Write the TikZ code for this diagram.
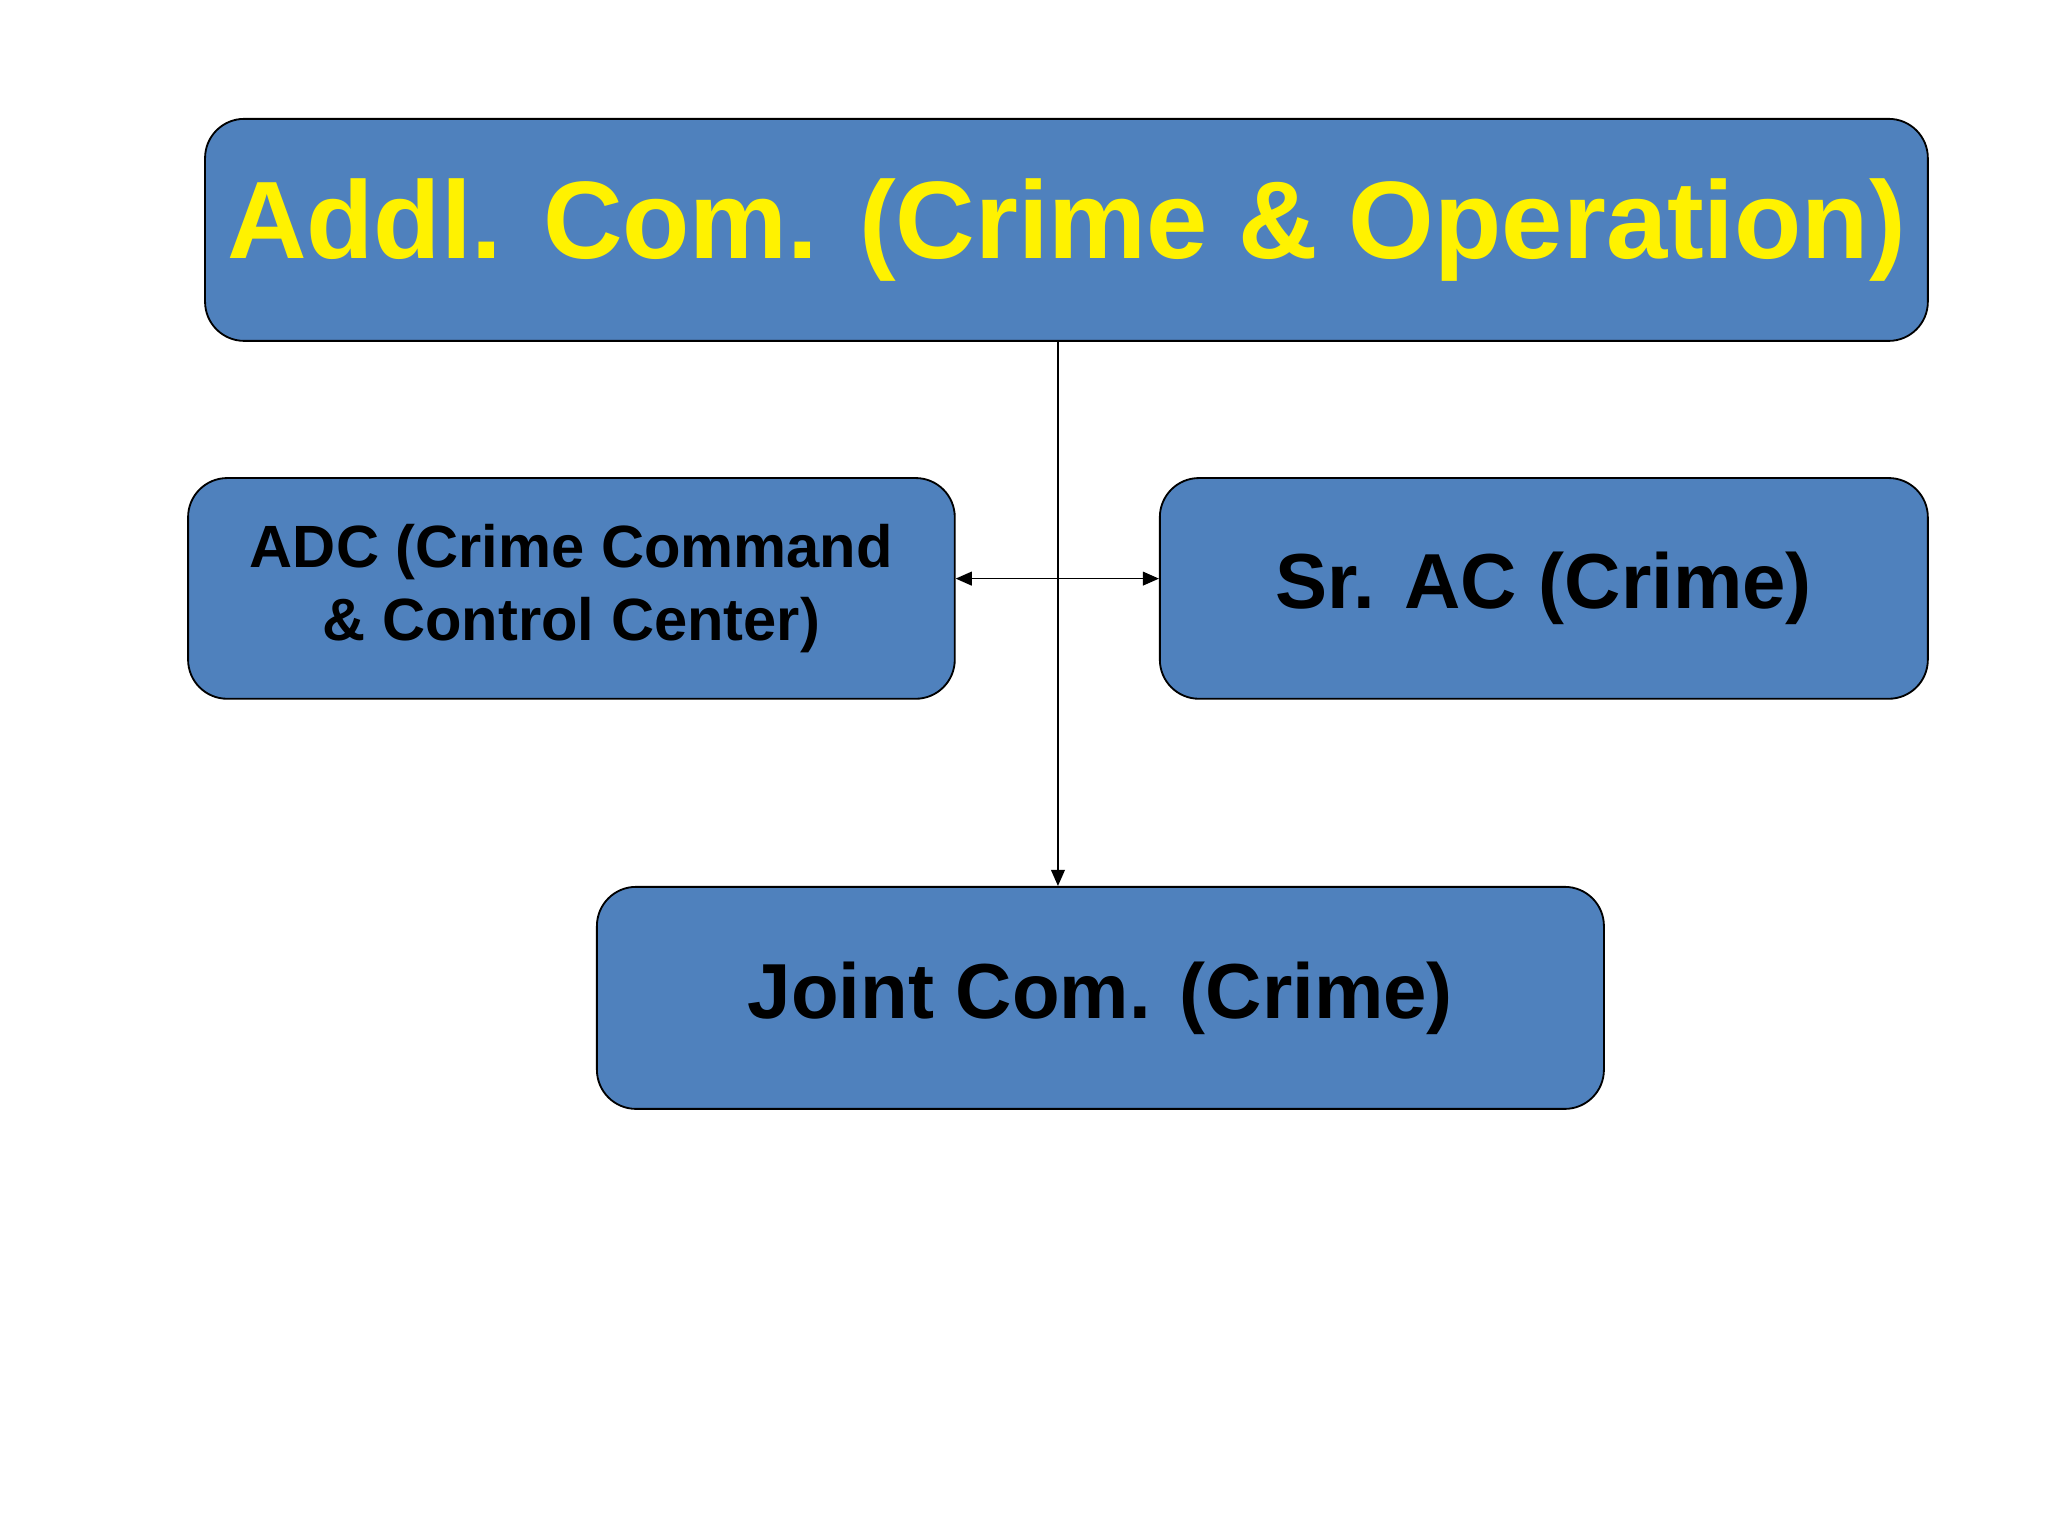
\documentclass[tikz,border=0pt]{standalone}
\usepackage{fontspec}
\setmainfont{Liberation Sans}
\usetikzlibrary{arrows.meta}
\definecolor{boxblue}{HTML}{4F81BD}
\begin{document}
\begin{tikzpicture}[x=0.02cm,y=-0.02cm,
  box/.style={draw=black,line width=0.8pt,fill=boxblue,rounded corners=0.6cm,inner sep=0pt,align=center,font=\bfseries},
  conn/.style={line width=0.7pt,-{Triangle[length=7pt,width=6pt]}}]
\fill[white] (0,0) rectangle (1568,1176);
\node[box,minimum width=1319*0.02cm,minimum height=170*0.02cm,text=yellow,font=\bfseries\fontsize{48}{56}\selectfont] (top) at (816.5,176) {Addl. Com. (Crime \& Operation)};
\node[box,minimum width=587*0.02cm,minimum height=169*0.02cm,font=\bfseries\fontsize{26}{32}\selectfont] (adc) at (437.5,450.5) {ADC (Crime Command\\\& Control Center)};
\node[box,minimum width=588*0.02cm,minimum height=169*0.02cm,font=\bfseries\fontsize{34}{40}\selectfont] (sr) at (1182,450.5) {Sr. AC (Crime)};
\node[box,minimum width=771*0.02cm,minimum height=170*0.02cm,font=\bfseries\fontsize{34}{40}\selectfont] (jc) at (842.5,764) {Joint Com. (Crime)};
\coordinate (mid) at (810,443);
\draw[conn] (top.south -| mid) -- (jc.north -| mid);
\draw[conn] (mid) -- (adc.east |- mid);
\draw[conn] (mid) -- (sr.west |- mid);
\end{tikzpicture}
\end{document}
